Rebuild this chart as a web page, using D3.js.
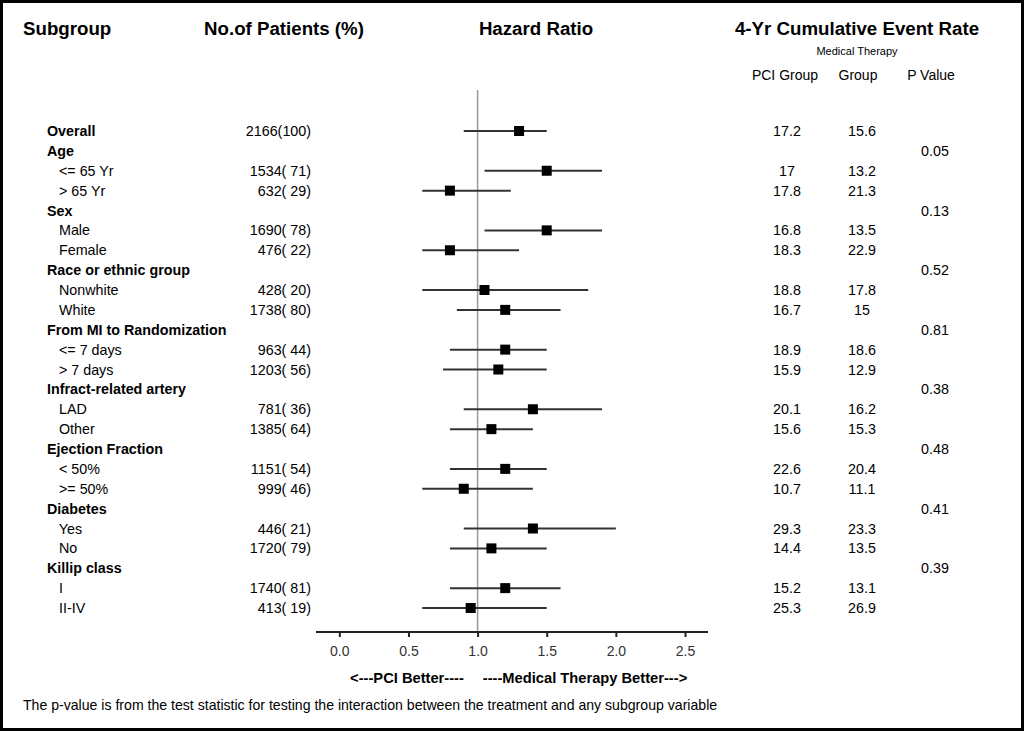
<!DOCTYPE html>
<html>
<head>
<meta charset="utf-8">
<script src="https://cdn.jsdelivr.net/npm/d3@7.9.0/dist/d3.min.js"></script>
<style>
  html, body { margin: 0; padding: 0; background: #fff; }
  svg { display: block; font-family: "Liberation Sans", Arial, sans-serif; }
</style>
</head>
<body>
<svg id="chart" width="1024" height="731"></svg>
<script>
// rows of the forest plot, top to bottom
const labels = ['Overall', 'Age', '<= 65 Yr', '> 65 Yr', 'Sex', 'Male', 'Female',
  'Race or ethnic group', 'Nonwhite', 'White', 'From MI to Randomization', '<= 7 days', '> 7 days',
  'Infract-related artery', 'LAD', 'Other', 'Ejection Fraction', '< 50%', '>= 50%',
  'Diabetes', 'Yes', 'No', 'Killip class', 'I', 'II-IV'];
const isGroup = [1, 1, 0, 0, 1, 0, 0, 1, 0, 0, 1, 0, 0, 1, 0, 0, 1, 0, 0, 1, 0, 0, 1, 0, 0];
const patients = ['2166(100)', '', '1534( 71)', '632( 29)', '', '1690( 78)', '476( 22)',
  '', '428( 20)', '1738( 80)', '', '963( 44)', '1203( 56)', '', '781( 36)', '1385( 64)',
  '', '1151( 54)', '999( 46)', '', '446( 21)', '1720( 79)', '', '1740( 81)', '413( 19)'];
const hr   = [1.3, null, 1.5, 0.8, null, 1.5, 0.8, null, 1.05, 1.2, null, 1.2, 1.15, null, 1.4, 1.1, null, 1.2, 0.9, null, 1.4, 1.1, null, 1.2, 0.95];
const hrLo = [0.9, null, 1.05, 0.6, null, 1.05, 0.6, null, 0.6, 0.85, null, 0.8, 0.75, null, 0.9, 0.8, null, 0.8, 0.6, null, 0.9, 0.8, null, 0.8, 0.6];
const hrHi = [1.5, null, 1.9, 1.24, null, 1.9, 1.3, null, 1.8, 1.6, null, 1.5, 1.5, null, 1.9, 1.4, null, 1.5, 1.4, null, 2.0, 1.5, null, 1.6, 1.5];
const pciRate = ['17.2', '', '17', '17.8', '', '16.8', '18.3', '', '18.8', '16.7', '', '18.9', '15.9', '', '20.1', '15.6', '', '22.6', '10.7', '', '29.3', '14.4', '', '15.2', '25.3'];
const medRate = ['15.6', '', '13.2', '21.3', '', '13.5', '22.9', '', '17.8', '15', '', '18.6', '12.9', '', '16.2', '15.3', '', '20.4', '11.1', '', '23.3', '13.5', '', '13.1', '26.9'];
const pValue  = ['', '0.05', '', '', '0.13', '', '', '0.52', '', '', '0.81', '', '', '0.38', '', '', '0.48', '', '', '0.41', '', '', '0.39', '', ''];
const ticks = [0, 0.5, 1.0, 1.5, 2.0, 2.5];

const rows = labels.map((l, i) => ({
  label: l, group: isGroup[i] === 1, n: patients[i],
  hr: hr[i], lo: hrLo[i], hi: hrHi[i],
  pci: pciRate[i], med: medRate[i], p: pValue[i]
}));

const svg = d3.select('#chart');

// frame
svg.append('rect')
  .attr('x', 1.5).attr('y', 1.5).attr('width', 1021).attr('height', 728)
  .attr('fill', 'none').attr('stroke', '#000').attr('stroke-width', 3);

const x = d3.scaleLinear().domain([0, 2.5]).range([339.3, 685]);
const y = d3.scaleLinear().domain([0, rows.length - 1]).range([131, 608]);
const axisY = 632;
const bodySize = 14.3;

// column headers
const head = svg.append('g').attr('font-weight', 'bold').attr('font-size', 18.7).attr('fill', '#000');
head.append('text').attr('x', 23).attr('y', 35).text('Subgroup');
head.append('text').attr('x', 284).attr('y', 35).attr('text-anchor', 'middle').text('No.of Patients (%)');
head.append('text').attr('x', 536).attr('y', 35).attr('text-anchor', 'middle').text('Hazard Ratio');
head.append('text').attr('x', 857).attr('y', 35).attr('text-anchor', 'middle').text('4-Yr Cumulative Event Rate');

svg.append('text').attr('x', 857).attr('y', 55).attr('text-anchor', 'middle')
  .attr('font-size', 11).text('Medical Therapy');
const sub = svg.append('g').attr('font-size', 14).attr('text-anchor', 'middle');
sub.append('text').attr('x', 785).attr('y', 80).text('PCI Group');
sub.append('text').attr('x', 858).attr('y', 80).text('Group');
sub.append('text').attr('x', 931).attr('y', 80).text('P Value');

// reference line at HR = 1
svg.append('line')
  .attr('x1', x(1)).attr('x2', x(1)).attr('y1', 90).attr('y2', axisY)
  .attr('stroke', '#999').attr('stroke-width', 1.5);

// table text
const rowG = svg.append('g').attr('font-size', bodySize).attr('fill', '#000')
  .selectAll('g').data(rows).join('g')
  .attr('transform', (d, i) => `translate(0,${y(i)})`);

rowG.append('text')
  .attr('x', d => d.group ? 47 : 55)
  .attr('dy', '0.35em')
  .attr('font-weight', d => d.group ? 'bold' : 'normal')
  .style('white-space', 'pre')
  .text(d => d.group ? d.label : ' ' + d.label);

rowG.append('text').attr('x', 311).attr('dy', '0.35em').attr('text-anchor', 'end')
  .style('white-space', 'pre').text(d => d.n);
rowG.append('text').attr('x', 787).attr('dy', '0.35em').attr('text-anchor', 'middle').text(d => d.pci);
rowG.append('text').attr('x', 862).attr('dy', '0.35em').attr('text-anchor', 'middle').text(d => d.med);
rowG.append('text').attr('x', 935).attr('dy', '0.35em').attr('text-anchor', 'middle').text(d => d.p);

// confidence intervals and point estimates
const est = rows.map((d, i) => ({ ...d, i })).filter(d => d.hr !== null);

svg.append('g').selectAll('line').data(est).join('line')
  .attr('x1', d => x(d.lo)).attr('x2', d => x(d.hi))
  .attr('y1', d => y(d.i)).attr('y2', d => y(d.i))
  .attr('stroke', '#333').attr('stroke-width', 2);

svg.append('g').selectAll('rect').data(est).join('rect')
  .attr('x', d => x(d.hr) - 5).attr('y', d => y(d.i) - 5)
  .attr('width', 10).attr('height', 10).attr('fill', '#000');

// x axis
const axis = svg.append('g').attr('transform', `translate(0,${axisY})`)
  .call(d3.axisBottom(x).tickValues(ticks).tickFormat(d3.format('.1f')).tickSize(5).tickSizeOuter(0));
axis.select('.domain').remove();
axis.append('line').attr('x1', 316).attr('x2', 708)
  .attr('stroke', '#222').attr('stroke-width', 2);
axis.selectAll('.tick line').attr('stroke', '#222').attr('stroke-width', 2);
axis.selectAll('.tick text').attr('font-size', 14).attr('fill', '#333')
  .attr('font-family', '"Liberation Sans", Arial, sans-serif').attr('dy', '1.15em');

// direction labels
const dir = svg.append('g').attr('font-weight', 'bold').attr('font-size', 14.7).attr('text-anchor', 'middle');
dir.append('text').attr('x', 407).attr('y', 683).text('<---PCI Better----');
dir.append('text').attr('x', 585).attr('y', 683).text('----Medical Therapy Better--->');

svg.append('text').attr('x', 23).attr('y', 710).attr('font-size', 14.1)
  .text('The p-value is from the test statistic for testing the interaction between the treatment and any subgroup variable');
</script>
</body>
</html>
